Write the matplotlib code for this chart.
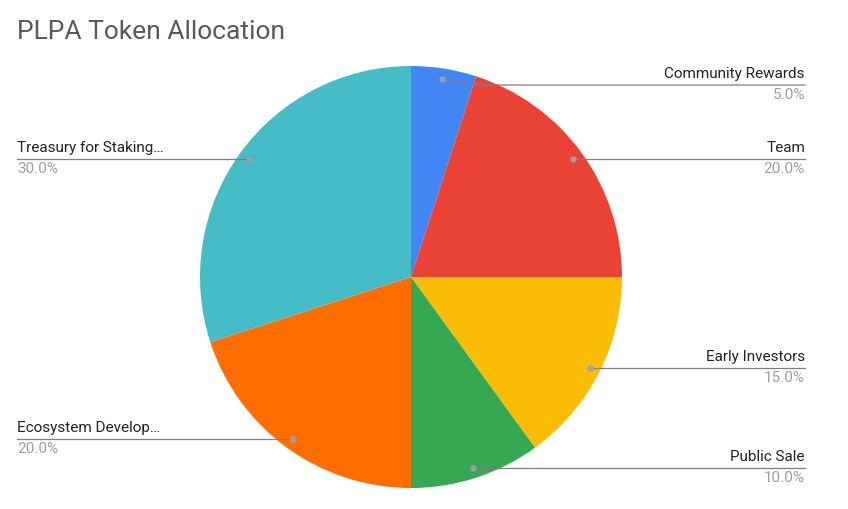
import numpy as np
import matplotlib.pyplot as plt

labels = ["Community Rewards", "Team", "Early Investors", "Public Sale",
          "Ecosystem Develop…", "Treasury for Staking…"]
values = [5, 20, 15, 10, 20, 30]
colors = ["#4285f4", "#ea4335", "#fbbc04", "#34a853", "#ff6d01", "#46bdc6"]

W, H = 848, 509
CX, CY, R = 411, H - 277, 211

plt.rcParams["font.family"] = ["Roboto", "DejaVu Sans"]
fig = plt.figure(figsize=(W / 100, H / 100), dpi=100)
ax = fig.add_axes([0, 0, 1, 1])
ax.set_xlim(0, W)
ax.set_ylim(0, H)
ax.axis("off")

ax.pie(values, colors=colors, startangle=90, counterclock=False,
       center=(CX, CY), radius=R, frame=True,
       wedgeprops=dict(linewidth=0))
ax.set_xlim(0, W)
ax.set_ylim(0, H)
ax.axis("off")

total = sum(values)
cum = 0
for lab, v in zip(labels, values):
    mid = (cum + v / 2) / total * 2 * np.pi
    cum += v
    dx, dy = CX + 0.95 * R * np.sin(mid), CY + 0.95 * R * np.cos(mid)
    ly = dy - 6 if v == 5 else dy
    right = np.sin(mid) > 0
    ex = 805 if right else 17
    ax.plot([dx, dx + (40 if v == 5 else 0), ex], [dy, ly, ly] if v == 5 else [dy, ly, ly],
            color="#7f7f7f", lw=0.9, zorder=3)
    ax.plot(dx, dy, "o", ms=3.5, color="#a0a0a0", zorder=4)
    ha = "right" if right else "left"
    ax.text(ex, ly + 4, lab, ha=ha, va="bottom", fontsize=11, color="#222222")
    ax.text(ex, ly - 3, f"{v:.1f}%", ha=ha, va="top", fontsize=11, color="#9e9e9e")

fig.text(17 / W, 1 - 32 / H, "PLPA Token Allocation", fontsize=19,
         color="#595959", va="center", ha="left")
fig.savefig("out.png", dpi=100)
